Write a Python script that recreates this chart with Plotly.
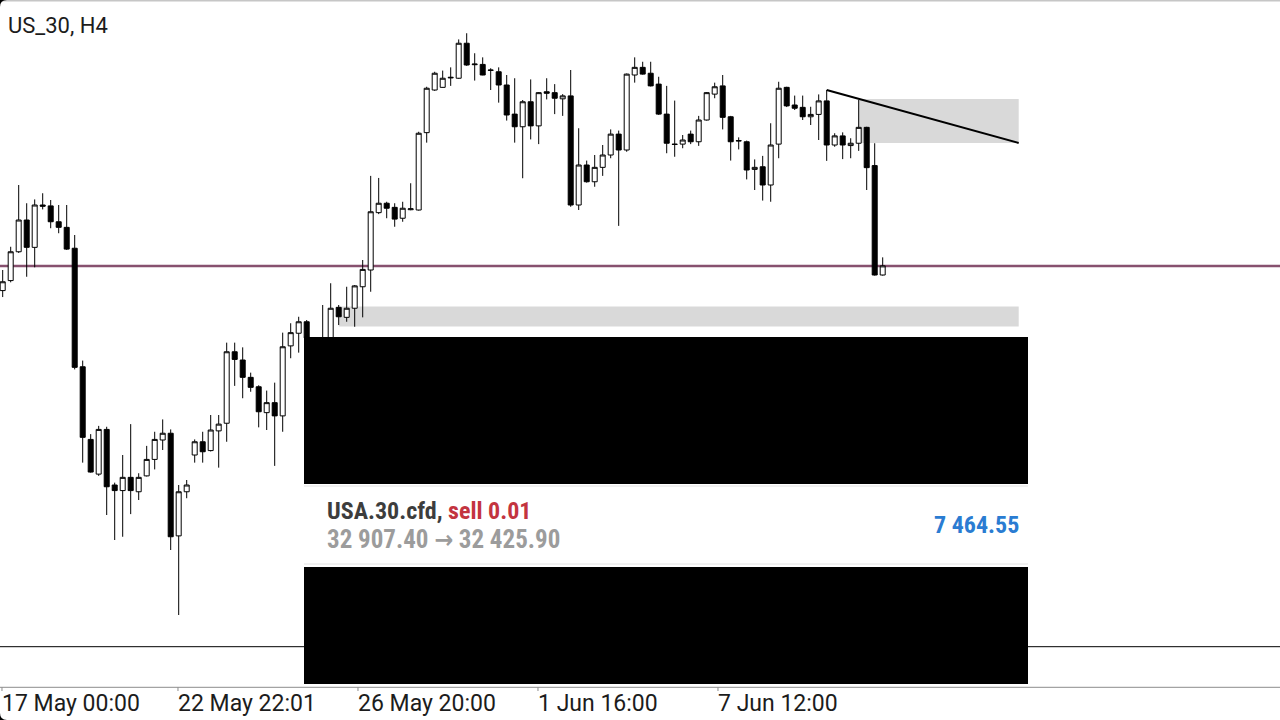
import plotly.graph_objects as go

# ---- US_30, H4 candles (index = bar number, prices in points) ----
opens = [32362, 32396, 32494, 32602, 32509, 32653, 32650, 32596, 32577, 32506,
         32103, 31856, 31738, 31890, 31701, 31682, 31727, 31678, 31732, 31788,
         31854, 31877, 31528, 31678, 31803, 31848, 31818, 31885, 31911, 32154,
         32126, 32067, 32035, 31947, 31981, 31936, 32174, 32217, 32256, 32190,
         32160, 32177, 32305, 32271, 32302, 32375, 32432, 32627, 32659, 32645,
         32608, 32637, 32636, 32899, 33044, 33053, 33085, 33084, 33203, 33130,
         33131, 33112, 33106, 33061, 32962, 32919, 33004, 32922, 33038, 33035,
         33014, 33024, 32653, 32789, 32732, 32781, 32823, 32894, 32840, 33095,
         33121, 33101, 33064, 32962, 32860, 32860, 32894, 32868, 32942, 33030,
         33058, 32953, 32872, 32868, 32774, 32783, 32721, 32860, 33053, 32993,
         32985, 32953, 32961, 33007, 32857, 32888, 32855, 32863, 32917, 32787,
         32415]
highs = [32432, 32511, 32721, 32659, 32672, 32693, 32670, 32653, 32653, 32551,
         32124, 31874, 31902, 31899, 31709, 31803, 31908, 31741, 31834, 31882,
         31924, 31890, 31701, 31718, 31856, 31882, 31939, 31939, 32185, 32185,
         32169, 32083, 32040, 32022, 32049, 32219, 32251, 32273, 32262, 32200,
         32313, 32387, 32313, 32375, 32381, 32466, 32752, 32745, 32664, 32659,
         32664, 32727, 32902, 33055, 33106, 33110, 33121, 33216, 33237, 33169,
         33155, 33118, 33121, 33095, 33084, 33010, 33080, 33037, 33084, 33064,
         33030, 33112, 32914, 32804, 32823, 32857, 32910, 32906, 33100, 33155,
         33140, 33140, 33089, 33058, 33008, 32891, 32906, 32956, 33037, 33069,
         33095, 32956, 32883, 32872, 32808, 32820, 32931, 33072, 33055, 33025,
         33025, 32987, 33029, 33044, 32897, 32900, 32880, 33010, 32919, 32863,
         32475]
lows = [32340, 32390, 32490, 32409, 32441, 32638, 32574, 32557, 32500, 32094,
        31777, 31743, 31732, 31599, 31514, 31525, 31602, 31650, 31730, 31754,
        31820, 31480, 31259, 31656, 31777, 31777, 31815, 31760, 31848, 32038,
        31996, 32018, 31897, 31888, 31766, 31882, 32132, 32151, 32160, 32120,
        32140, 32160, 32245, 32256, 32239, 32271, 32358, 32622, 32608, 32579,
        32596, 32635, 32634, 32865, 33041, 33052, 33058, 33082, 33126, 33076,
        33094, 33044, 33001, 32940, 32865, 32744, 32876, 32860, 33012, 32962,
        32956, 32647, 32636, 32729, 32715, 32752, 32812, 32582, 32834, 33069,
        33096, 33056, 32959, 32829, 32817, 32846, 32860, 32854, 32940, 33016,
        32910, 32804, 32842, 32740, 32704, 32668, 32664, 32812, 32986, 32976,
        32942, 32925, 32874, 32803, 32851, 32809, 32812, 32837, 32704, 32413,
        32413]
closes = [32392, 32494, 32602, 32509, 32653, 32649, 32596, 32577, 32503, 32101,
          31863, 31745, 31890, 31695, 31682, 31727, 31682, 31727, 31788, 31856,
          31877, 31525, 31678, 31701, 31848, 31814, 31888, 31908, 32154, 32128,
          32067, 32033, 31950, 31981, 31936, 32171, 32219, 32256, 32201, 32150,
          32195, 32302, 32273, 32302, 32378, 32434, 32630, 32659, 32642, 32605,
          32642, 32640, 32897, 33050, 33101, 33084, 33087, 33203, 33129, 33132,
          33095, 33111, 33061, 32959, 32919, 33004, 32922, 33035, 33033, 33016,
          33024, 32653, 32789, 32732, 32781, 32823, 32894, 32840, 33098, 33121,
          33098, 33058, 32962, 32863, 32859, 32874, 32868, 32942, 33035, 33055,
          32951, 32868, 32871, 32772, 32781, 32721, 32857, 33050, 32990, 32982,
          32953, 32961, 33007, 32857, 32888, 32857, 32863, 32917, 32780, 32415,
          32446]

# time axis labels and the bars they sit on
time_labels = ["17 May 00:00", "22 May 22:01", "26 May 20:00", "1 Jun 16:00", "7 Jun 12:00"]
time_bars = [0, 22, 44.5, 67, 89.5]

# drawn objects: supply / demand zones and a falling trend line
supply_zone = dict(x=[107, 127], y=[32864, 33013])
demand_zone = dict(x=[42, 127], y=[32240, 32308])
trend_x = [103, 127]
trend_y = [33044, 32864]

# closed position shown in the trade panel
symbol = "USA.30.cfd"
side = "sell"
volume = 0.01
open_price = 32907.40
close_price = 32425.90
profit = 7464.55

W, H = 1280, 720
X_RANGE = [-0.3375, 159.6625]
Y_RANGE = [30902, 33350]


def px(x):
    return x / W


def py(y):
    return 1 - y / H


def money(v):
    return f"{v:,.2f}".replace(",", " ")


bars = list(range(len(opens)))

fig = go.Figure()
fig.add_trace(go.Candlestick(
    x=bars, open=opens, high=highs, low=lows, close=closes,
    increasing=dict(line=dict(color="#000000", width=1), fillcolor="#ffffff"),
    decreasing=dict(line=dict(color="#000000", width=1), fillcolor="#000000"),
    whiskerwidth=0, hoverinfo="skip", showlegend=False,
))

shapes = []
# zones (behind the candles)
for z in (supply_zone, demand_zone):
    shapes.append(dict(type="rect", xref="x", yref="y", layer="below",
                       x0=z["x"][0], x1=z["x"][1], y0=z["y"][0], y1=z["y"][1],
                       fillcolor="#d9d9d9", line=dict(width=0)))
# bid line at the last close
shapes.append(dict(type="line", xref="paper", yref="y", layer="below",
                   x0=0, x1=1, y0=closes[-1], y1=closes[-1],
                   line=dict(color="#87516f", width=2.5)))
# trend line
shapes.append(dict(type="line", xref="x", yref="y",
                   x0=trend_x[0], x1=trend_x[1], y0=trend_y[0], y1=trend_y[1],
                   line=dict(color="#000000", width=2)))
# chart bottom border and time scale
shapes.append(dict(type="line", xref="paper", yref="paper",
                   x0=0, x1=1, y0=py(646.7), y1=py(646.7),
                   line=dict(color="#000000", width=1)))
shapes.append(dict(type="line", xref="paper", yref="paper",
                   x0=0, x1=1, y0=py(687.3), y1=py(687.3),
                   line=dict(color="#8c8c8c", width=1)))
for b in time_bars:
    shapes.append(dict(type="line", xref="x", yref="paper",
                       x0=b - 0.09, x1=b - 0.09, y0=py(687.3), y1=py(691),
                       line=dict(color="#8c8c8c", width=1)))
# trade panel with blacked-out rows around it
shapes.append(dict(type="rect", xref="paper", yref="paper",
                   x0=px(304), x1=px(1028), y0=py(484), y1=py(567),
                   fillcolor="#ffffff", line=dict(width=0)))
for y in (486, 564):
    shapes.append(dict(type="line", xref="paper", yref="paper",
                       x0=px(304), x1=px(1028), y0=py(y), y1=py(y),
                       line=dict(color="#e2e2e2", width=1)))
for y0, y1 in ((337, 484), (567, 684)):
    shapes.append(dict(type="rect", xref="paper", yref="paper",
                       x0=px(304), x1=px(1028), y0=py(y0), y1=py(y1),
                       fillcolor="#000000", line=dict(width=0)))
# screen edge: thin top rim and rounded corners
shapes.append(dict(type="line", xref="paper", yref="paper",
                   x0=0, x1=1, y0=py(0.7), y1=py(0.7),
                   line=dict(color="#c6c6c6", width=1.5)))
r = 7
shapes.append(dict(type="path", xref="paper", yref="paper",
                   path=f"M 0,1 L {px(r)},1 Q 0,1 0,{py(r)} Z",
                   fillcolor="#000000", line=dict(width=0)))
shapes.append(dict(type="path", xref="paper", yref="paper",
                   path=f"M 0,0 L {px(r)},0 Q 0,0 0,{py(H - r)} Z",
                   fillcolor="#000000", line=dict(width=0)))

annotations = []
annotations.append(dict(text="US_30, H4", xref="paper", yref="paper",
                        x=px(6), y=py(26), xanchor="left", yanchor="middle",
                        showarrow=False,
                        font=dict(family="Roboto", size=22, color="#1c1c1c")))
for lbl, b in zip(time_labels, time_bars):
    annotations.append(dict(text=lbl, xref="x", yref="paper",
                            x=b, y=py(703), xanchor="left", yanchor="middle",
                            xshift=-3, showarrow=False,
                            font=dict(family="Roboto", size=23, color="#1c1c1c")))

panel_font = "Roboto Condensed, Liberation Sans Narrow, DejaVu Sans Condensed, Roboto"
annotations.append(dict(
    text=(f"<b><span style='color:#3d3d3d'>{symbol},</span> "
          f"<span style='color:#c3343f'>{side} {volume:.2f}</span></b>"),
    xref="paper", yref="paper", x=px(325), y=py(511),
    xanchor="left", yanchor="middle", showarrow=False,
    font=dict(family=panel_font, size=24, color="#3d3d3d")))
annotations.append(dict(
    text=f"<b>{money(open_price)} \u2192 {money(close_price)}</b>",
    xref="paper", yref="paper", x=px(325), y=py(539),
    xanchor="left", yanchor="middle", showarrow=False,
    font=dict(family=panel_font, size=25, color="#9c9c9c")))
annotations.append(dict(
    text=f"<b>{money(profit)}</b>",
    xref="paper", yref="paper", x=px(1021), y=py(525),
    xanchor="right", yanchor="middle", showarrow=False,
    font=dict(family=panel_font, size=24, color="#2a7cd2")))

fig.update_layout(
    width=W, height=H,
    margin=dict(l=0, r=0, t=0, b=0),
    paper_bgcolor="#ffffff", plot_bgcolor="#ffffff",
    boxgap=0.375, boxgroupgap=0,
    xaxis=dict(range=X_RANGE, visible=False, rangeslider=dict(visible=False), fixedrange=True),
    yaxis=dict(range=Y_RANGE, visible=False, fixedrange=True),
    shapes=shapes, annotations=annotations,
    showlegend=False,
)

fig.write_html("out.html", config={"displayModeBar": False})
